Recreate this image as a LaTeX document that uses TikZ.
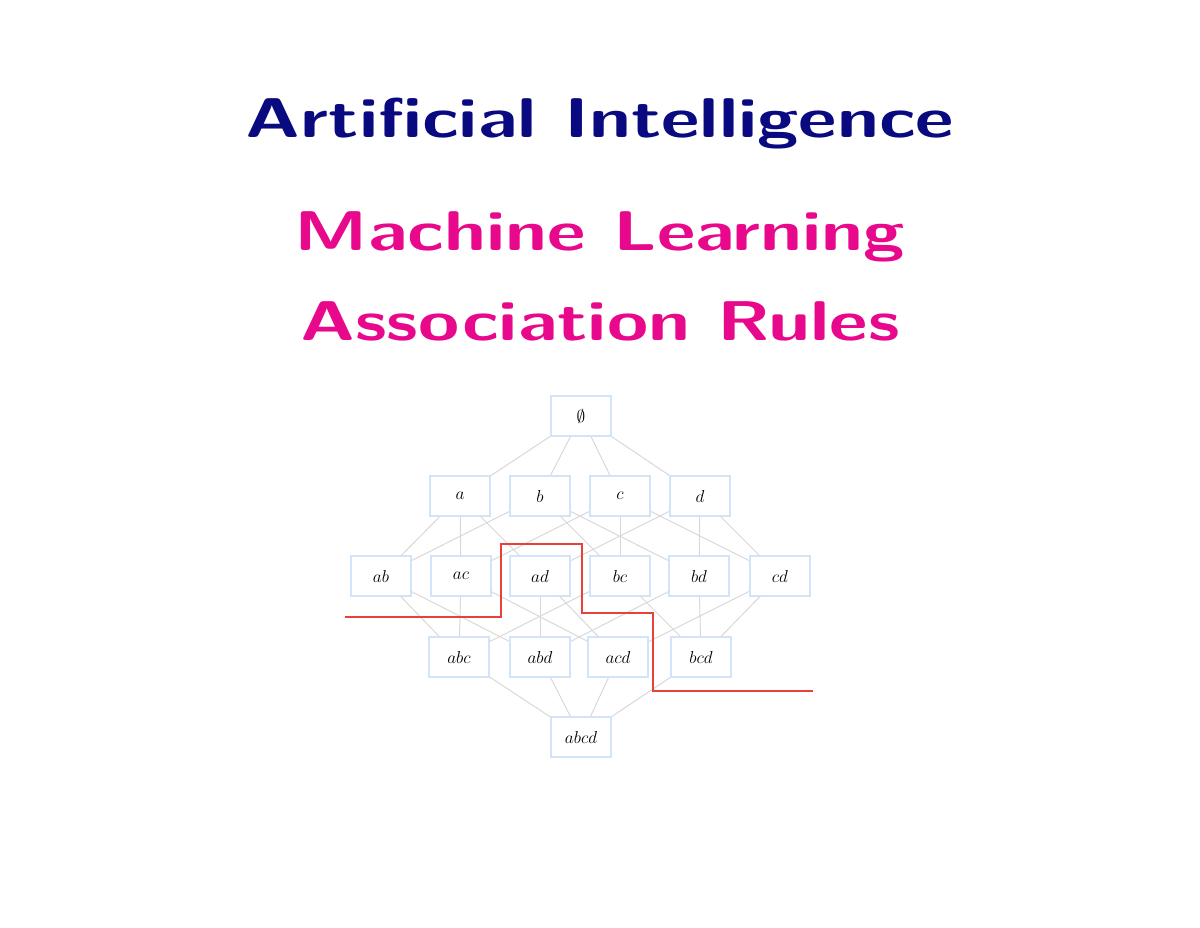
\documentclass[tikz,border=0pt]{standalone}
\usepackage{amssymb}
\usepackage{graphicx}
\definecolor{navyt}{HTML}{0A0A80}
\definecolor{pinkt}{HTML}{E8088C}
\definecolor{boxc}{HTML}{D2E4FA}
\definecolor{edgec}{HTML}{D8D8D8}
\definecolor{redc}{HTML}{E8413A}
\newcommand{\widetxt}[1]{\scalebox{1.34}[1]{#1}}
\begin{document}
\begin{tikzpicture}[x=1pt,y=-1pt,
  setbox/.style={draw=boxc,line width=1.5pt,minimum width=60pt,minimum height=40pt,inner sep=0pt,font=\fontsize{19}{22}\selectfont},
  edge/.style={draw=edgec,line width=1pt},
  title/.style={font=\fontsize{56}{60}\selectfont\sffamily\bfseries,anchor=base}]
\useasboundingbox (0,0) rectangle (1200,927);
\node[title,text=navyt] (t1) at (600,137) {\widetxt{Artificial Intelligence}};
\node[title,text=pinkt] (t2) at (600,250) {\widetxt{Machine Learning}};
\node[title,text=pinkt] (t3) at (600,340) {\widetxt{Association Rules}};
\node[setbox] (e) at (581,416) {$\emptyset$};
\node[setbox] (a) at (460,496) {$a$};
\node[setbox] (b) at (540,496) {$b$};
\node[setbox] (c) at (620,496) {$c$};
\node[setbox] (d) at (700,496) {$d$};
\node[setbox] (ab) at (381,576) {$ab$};
\node[setbox] (ac) at (461,576) {$ac$};
\node[setbox] (ad) at (540,576) {$ad$};
\node[setbox] (bc) at (620,576) {$bc$};
\node[setbox] (bd) at (699,576) {$bd$};
\node[setbox] (cd) at (780,576) {$cd$};
\node[setbox] (abc) at (459,657) {$abc$};
\node[setbox] (abd) at (540,657) {$abd$};
\node[setbox] (acd) at (618,657) {$acd$};
\node[setbox] (bcd) at (701,657) {$bcd$};
\node[setbox] (abcd) at (581,737) {$abcd$};
\foreach \s/\t in {e/a,e/b,e/c,e/d,
  a/ab,a/ac,a/ad,b/ab,b/bc,b/bd,c/ac,c/bc,c/cd,d/ad,d/bd,d/cd,
  ab/abc,ab/abd,ac/abc,ac/acd,ad/abd,ad/acd,bc/abc,bc/bcd,bd/abd,bd/bcd,cd/acd,cd/bcd,
  abc/abcd,abd/abcd,acd/abcd,bcd/abcd}
  \draw[edge] (\s) -- (\t);
\coordinate (r0) at (345,617);
\coordinate (r1) at (813,691);
\draw[redc,line width=2pt] (r0) -- (501,617) -- (501,544) -- (582,544) -- (582,613) -- (653,613) -- (653,691) -- (r1);
\end{tikzpicture}
\end{document}
